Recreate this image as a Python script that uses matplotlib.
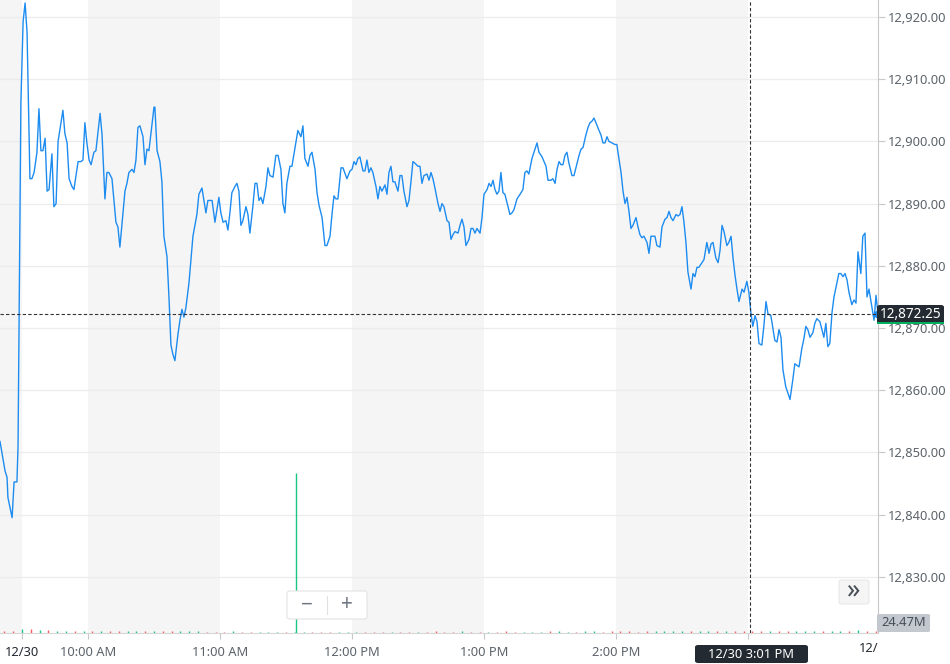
import matplotlib
matplotlib.use('Agg')
import matplotlib.pyplot as plt
import numpy as np
from matplotlib.patches import FancyBboxPatch, Rectangle

# minutes after 9:30 AM on 12/30 and the price at that minute
minutes = [
    -10.0, -7.7, -6.8, -6.4, -4.5, -3.6, -2.3, -1.8, -0.5, 0.5, 1.4, 2.3, 3.6,
    4.5, 5.5, 6.8, 7.7, 8.6, 9.5, 10.5, 11.4, 12.3, 13.6, 14.5, 15.5, 16.4,
    18.6, 19.5, 20.5, 21.4, 22.7, 23.6, 25.5, 26.8, 27.7, 28.6, 29.5, 30.5,
    31.4, 32.7, 33.6, 35.5, 36.4, 37.7, 38.6, 39.5, 40.9, 41.8, 42.7, 43.6,
    44.5, 45.5, 46.8, 47.7, 48.6, 50.0, 50.9, 51.8, 52.7, 53.6, 55.0, 55.9,
    56.8, 57.7, 59.1, 60.0, 60.4, 61.4, 62.7, 63.6, 64.5, 65.9, 66.8, 67.7,
    68.6, 69.5, 70.9, 71.8, 72.7, 73.6, 74.5, 75.9, 77.3, 77.7, 79.5, 80.4,
    81.8, 82.7, 83.6, 84.5, 86.4, 87.7, 88.6, 89.5, 90.4, 91.4, 92.7, 93.6,
    94.5, 95.4, 96.8, 97.7, 98.6, 99.5, 100.4, 101.8, 102.7, 103.6, 105.0,
    105.9, 106.8, 107.7, 108.6, 109.5, 110.9, 111.8, 112.7, 114.1, 115.4,
    116.4, 117.7, 118.6, 119.5, 120.4, 121.8, 122.7, 124.1, 125.4, 126.8,
    127.7, 128.6, 130.0, 130.9, 131.8, 133.2, 134.1, 135.0, 136.4, 137.7,
    138.6, 140.0, 140.9, 141.8, 142.7, 143.6, 145.0, 145.9, 147.7, 149.1,
    150.0, 150.9, 151.8, 152.7, 153.6, 155.0, 155.9, 156.8, 157.7, 158.6,
    159.5, 160.9, 161.8, 162.7, 163.6, 165.0, 165.9, 166.8, 167.7, 168.6,
    169.5, 170.9, 171.8, 172.7, 173.6, 175.0, 175.9, 176.8, 177.7, 178.6,
    180.0, 180.9, 181.8, 182.7, 184.1, 185.0, 185.9, 186.8, 187.7, 189.1,
    190.0, 190.9, 191.8, 193.2, 194.1, 195.0, 195.9, 196.8, 198.2, 199.1,
    200.0, 200.9, 201.8, 203.2, 204.1, 205.0, 205.9, 206.8, 208.2, 209.1,
    210.0, 211.4, 212.3, 213.2, 214.1, 215.0, 215.9, 216.8, 217.7, 218.6,
    219.5, 220.9, 221.8, 222.7, 223.6, 225.0, 226.4, 227.7, 228.6, 229.5,
    230.4, 231.8, 232.7, 234.1, 235.0, 236.4, 237.3, 238.2, 239.1, 240.4,
    241.3, 242.3, 243.2, 244.1, 245.0, 245.9, 246.8, 247.7, 248.6, 250.0,
    250.9, 252.3, 253.2, 254.1, 255.0, 256.3, 257.3, 258.2, 259.1, 260.0,
    260.9, 262.3, 263.2, 264.1, 265.0, 265.9, 266.8, 268.2, 269.5, 270.4,
    270.9, 272.3, 273.2, 274.1, 275.0, 275.9, 276.8, 277.7, 279.1, 280.0,
    280.9, 281.8, 282.7, 284.1, 285.0, 285.9, 286.8, 287.7, 288.6, 290.0,
    290.9, 292.3, 293.2, 294.1, 295.0, 295.9, 297.3, 298.2, 299.1, 300.0,
    300.9, 301.8, 302.7, 304.1, 305.0, 305.9, 306.8, 307.7, 309.1, 310.0,
    311.3, 312.3, 313.2, 314.1, 315.4, 316.4, 317.3, 318.2, 319.1, 320.4,
    321.3, 322.3, 323.2, 324.1, 325.0, 325.9, 327.3, 328.2, 329.5, 330.4,
    331.3, 332.2, 333.2, 334.1, 335.0, 336.3, 337.2, 338.2, 339.1, 340.4,
    341.3, 342.2, 343.2, 344.1, 345.0, 345.9, 347.2, 348.2, 349.1, 350.4,
    351.3, 352.2, 353.2, 354.5, 355.4, 356.3, 357.2, 358.2, 359.5, 360.4,
    361.3, 362.7, 363.6, 364.5, 365.4, 366.3, 367.2, 368.2, 369.1, 370.4,
    371.3, 372.2, 373.2, 374.1, 375.0, 375.9, 377.2, 378.2, 379.1, 380.0,
    381.3, 382.2, 383.2, 384.1, 385.0, 386.4, 387.3, 388.2, 389.1,
]
prices = [
    12851.75, 12847, 12846, 12842.75, 12839.5, 12845.25, 12845.25, 12851, 12906.25, 12919.25, 12922.25, 12917.5, 12894,
    12894, 12895, 12898.25, 12905.25, 12898.5, 12898.5, 12900.5, 12892, 12892.25, 12898, 12889.5, 12890, 12900,
    12905, 12901.25, 12899.75, 12894, 12892.75, 12892.25, 12896.75, 12896.75, 12897, 12903, 12899.75, 12897,
    12896.25, 12898.25, 12898.5, 12904.5, 12901, 12890.75, 12895, 12895, 12894, 12890.5, 12887, 12886.25,
    12883, 12887, 12892, 12893.25, 12895, 12895.5, 12895, 12897, 12902.25, 12902.5, 12900.75, 12896.25,
    12898.75, 12898.5, 12902.75, 12905.5, 12905.5, 12898.5, 12896.75, 12893.5, 12884.75, 12881.5, 12875, 12867.25,
    12865.75, 12864.75, 12869, 12871.25, 12873, 12871.75, 12873.25, 12877.25, 12883.25, 12884.75, 12888.25, 12891.5,
    12892.5, 12890.5, 12888.5, 12890.5, 12890.5, 12887, 12889, 12891, 12888.5, 12887, 12887.25, 12885.75,
    12888.5, 12891.75, 12892.75, 12893.25, 12892, 12886.5, 12887.25, 12889.5, 12888.25, 12885.25, 12889.75,
    12893.25, 12893.25, 12890.5, 12891, 12890, 12892.75, 12895.75, 12894.5, 12894.25, 12897.75,
    12897.75, 12895.5, 12890, 12888.5, 12893.25, 12896, 12896, 12899, 12901.75, 12900.75,
    12902.5, 12897.25, 12896, 12897.75, 12898.25, 12895.5, 12891.75, 12889.75, 12887.75, 12883.25,
    12883.25, 12884.75, 12888.25, 12891.25, 12890.75, 12890.75, 12895.75, 12895.75, 12894, 12895.25,
    12895.5, 12896.75, 12896.25, 12897.25, 12897.5, 12895.25, 12895.25, 12897, 12895, 12895.75,
    12895, 12892.75, 12890.75, 12892.75, 12892, 12893, 12891.5, 12895, 12896, 12893.5,
    12893.5, 12892, 12894.5, 12894.5, 12892, 12889.5, 12890.5, 12893.5, 12896.75, 12896.5,
    12896, 12896, 12893.25, 12894.5, 12894.75, 12893.75, 12895, 12894, 12892.5, 12890,
    12888.75, 12890, 12889.5, 12887.25, 12887, 12884.25, 12885, 12885.5, 12885.25, 12886.5,
    12887.5, 12886.25, 12883.25, 12884.25, 12886, 12886, 12885.25, 12886, 12885.25, 12887.75,
    12891.5, 12892.25, 12893.25, 12892.75, 12893.75, 12892.25, 12891.5, 12892, 12895, 12891.75,
    12891.5, 12889.5, 12888.25, 12888.5, 12889, 12890.75, 12891.5, 12892.25, 12895, 12895.25,
    12894.75, 12897.25, 12898.25, 12899.75, 12898.25, 12897.5, 12896.75, 12896, 12893.75, 12893.75,
    12894, 12893.25, 12895.5, 12896.75, 12896.25, 12896.25, 12897.75, 12898.25, 12896.5, 12894.5,
    12894.5, 12896.5, 12897.75, 12898.75, 12899, 12901, 12902.25, 12903, 12903.25, 12903.75,
    12903, 12901.75, 12901, 12899.75, 12899.75, 12900.75, 12900, 12899.75, 12899.5, 12899.5,
    12898.25, 12895, 12892, 12890, 12891, 12888.75, 12886, 12886.5, 12887.75, 12886.25,
    12885, 12884.5, 12884.75, 12883.75, 12882, 12884.75, 12884.75, 12884.75, 12883.25, 12883,
    12886.25, 12887.5, 12887.75, 12888.75, 12887.75, 12887.25, 12888.25, 12888, 12888.25, 12889.5,
    12887, 12883.75, 12879, 12876.25, 12878.75, 12878.25, 12879.75, 12879.75, 12880.5, 12881,
    12883.75, 12882, 12883.5, 12883.75, 12881.25, 12880.5, 12882.5, 12886.5, 12885.5, 12883.25,
    12883.75, 12884.75, 12881.25, 12878.5, 12876.25, 12874.25, 12876.25, 12875.75, 12877.5, 12875.75,
    12872.5, 12870.25, 12872, 12871, 12867.5, 12867.25, 12870.25, 12874.25, 12872.25, 12872,
    12870, 12868, 12867.75, 12869.75, 12868.5, 12863.25, 12860.5, 12859.5, 12858.5, 12861.75,
    12864.25, 12864, 12863.75, 12866.75, 12868.25, 12870.25, 12869.75, 12868.5, 12869.25, 12870.75,
    12871.5, 12871, 12869.75, 12868.5, 12870.75, 12867, 12867.5, 12872.5, 12875, 12877.25,
    12878.75, 12878.75, 12878.25, 12878.75, 12877.75, 12875.75, 12873.75, 12874.5, 12874, 12882.25,
    12878.75, 12884.75, 12885.25, 12875, 12876.25, 12873.25, 12871.25, 12875.25, 12872.25,
]

# volume, one bar every 4 minutes from 9:22, plus the block trade at 11:34
vol_minutes = np.arange(-8, 389, 4)
volumes = [
    40, 50, 110, 95, 80, 70, 60, 60, 50, 50,
    45, 50, 45, 40, 40, 45, 40, 40, 45, 55,
    45, 40, 40, 35, 35, 35, 40, 35, 30, 30,
    35, 30, 30, 30, 35, 30, 35, 30, 30, 35,
    30, 30, 35, 30, 30, 30, 35, 35, 30, 40,
    35, 35, 40, 35, 35, 30, 35, 40, 35, 35,
    30, 35, 40, 40, 35, 35, 40, 40, 35, 40,
    45, 40, 35, 40, 45, 40, 40, 45, 40, 45,
    40, 45, 50, 45, 40, 45, 45, 50, 45, 50,
    50, 55, 50, 55, 60, 55, 60, 65, 60, 60,
]
spike_minute = 124.5
spike_volume = 4000

y_ticks = [12830, 12840, 12850, 12860, 12870, 12880, 12890, 12900, 12910, 12920]
x_ticks = [0, 30, 90, 150, 210, 270, 330]
# the 3:00 PM label sits under the crosshair time tag
x_labels = ['12/30', '10:00 AM', '11:00 AM', '12:00 PM', '1:00 PM', '2:00 PM', '']
shaded = [(-10, 0), (30, 90), (150, 210), (270, 330)]

last_price = 12872.25
cross_minute = 331

W, H = 950, 664
plt.rcParams['font.family'] = ['Noto Sans', 'DejaVu Sans']
fig = plt.figure(figsize=(W / 100, H / 100), dpi=100)
ax = fig.add_axes([0, 1 - 633 / H, 878 / W, 633 / H])

for a, b in shaded:
    ax.axvspan(a, b, color='#f5f5f5', lw=0, zorder=0)
for v in y_ticks:
    ax.axhline(v, color='#ececec', lw=0.9, zorder=1)

ax.plot(minutes, prices, color='#1d8cf0', lw=1.0, zorder=3)
ax.plot([minutes[-1]], [prices[-1]], 'o', color='#1d8cf0', ms=5, zorder=4, clip_on=False)

ax.axhline(last_price, color='#333333', lw=0.8, ls=(0, (3, 2)), zorder=4)
ax.axvline(cross_minute, color='#333333', lw=0.8, ls=(0, (3, 2)), zorder=4)

ax.set_xlim(-10, 389.1)
ax.set_ylim(12820.96, 12922.73)
ax.yaxis.tick_right()
ax.set_yticks(y_ticks)
ax.set_yticklabels([f'{v:,.2f}' for v in y_ticks])
ax.set_xticks(x_ticks)
ax.set_xticklabels(x_labels)
ax.tick_params(axis='y', length=5, width=0.8, color='#c8c8c8', labelcolor='#5b636a', labelsize=9.3, pad=2)
ax.tick_params(axis='x', length=4, width=0.8, color='#c8c8c8', labelcolor='#5b636a', labelsize=9.3, pad=5)
ax.get_xticklabels()[0].set_color('#232a31')
for s in ['top', 'left']:
    ax.spines[s].set_visible(False)
ax.spines['right'].set_color('#c8c8c8')
ax.spines['bottom'].set_color('#d6d6d6')
ax.text(389.1, -0.025, '12/', transform=ax.get_xaxis_transform(), ha='right', va='center',
        fontsize=9.3, color='#232a31')

# volume on its own transparent axes
vax = fig.add_axes(ax.get_position(), sharex=ax)
vax.patch.set_alpha(0)
vax.axis('off')
ref = np.interp(vol_minutes - 4, minutes, prices)
now = np.interp(vol_minutes, minutes, prices)
vcol = ['#16c784' if n >= r else '#ff5a5f' for n, r in zip(now, ref)]
vax.vlines(vol_minutes, 0, volumes, colors=vcol, lw=1.0)
vax.vlines([spike_minute], 0, [spike_volume], colors='#16c784', lw=1.0)
vax.set_ylim(0, spike_volume * 633 / 160)
vax.set_xlim(-10, 389.1)


def fx(px):
    return px / W


def fy(py):
    return 1 - py / H


def box(x0, y0, x1, y1, fc, ec='none', r=3, lw=0):
    p = FancyBboxPatch((fx(x0), fy(y1)), fx(x1) - fx(x0), fy(y0) - fy(y1),
                       boxstyle=f'round,pad=0,rounding_size={r / W}', transform=fig.transFigure,
                       fc=fc, ec=ec, lw=lw, zorder=10)
    fig.patches.append(p)


# last price tag
box(877, 305, 944, 324, '#232a31')
fig.patches.append(Rectangle((fx(877), fy(324)), fx(944) - fx(877), 2.5 / H,
                             transform=fig.transFigure, fc='#00b061', lw=0, zorder=11))
fig.text(fx(910.5), fy(314), f'{last_price:,.2f}', ha='center', va='center', color='white',
         fontsize=9.8, fontweight='bold', zorder=12)

# crosshair time tag
box(695, 645, 808, 663, '#232a31')
fig.text(fx(751.5), fy(654), '12/30 3:01 PM', ha='center', va='center', color='white',
         fontsize=9.3, zorder=12)

# volume tag
box(877, 614, 930, 632, '#c3c8ce', r=2)
fig.text(fx(903.5), fy(623), '24.47M', ha='center', va='center', color='#464e56',
         fontsize=9.3, zorder=12)

# zoom buttons
box(287, 591, 367, 619, 'white', ec='#e3e3e3', r=3, lw=0.8)
fig.add_artist(plt.Line2D([fx(327), fx(327)], [fy(596), fy(614)], color='#e0e0e0', lw=0.8,
                          transform=fig.transFigure, zorder=11))
fig.text(fx(307), fy(605), '\u2212', ha='center', va='center', color='#6e7780',
         fontsize=15, fontweight='bold', zorder=12)
fig.text(fx(347), fy(605), '+', ha='center', va='center', color='#6e7780',
         fontsize=15, fontweight='bold', zorder=12)

# scroll to latest button
box(839, 580, 869, 604, '#f5f5f5', ec='#e8e8e8', r=3, lw=0.8)
fig.text(fx(854), fy(592), '\u00bb', ha='center', va='center', color='#464e56',
         fontsize=19, fontweight='bold', zorder=12)

fig.savefig('out.png', dpi=100)
